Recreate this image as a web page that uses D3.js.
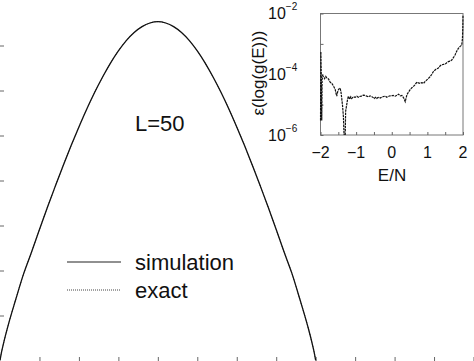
<!DOCTYPE html>
<html>
<head>
<meta charset="utf-8">
<script src="https://cdn.jsdelivr.net/npm/d3@7"></script>
<style>
  html, body { margin: 0; padding: 0; background: #fff; }
  svg { display: block; font-family: "Liberation Sans", Arial, Helvetica, sans-serif; }
</style>
</head>
<body>
<svg id="chart" width="474" height="361"></svg>
<script>
// ---------- data ----------
// main panel: log10 g(E) for L=50 versus E/N
const energyPerSite = [-2, -1.98, -1.95, -1.9, -1.8, -1.7, -1.6, -1.5, -1.4, -1.3, -1.2, -1.1, -1.0, -0.9, -0.8, -0.7, -0.6, -0.5, -0.4, -0.3, -0.2, -0.1, 0,
                       0.1, 0.2, 0.3, 0.4, 0.5, 0.6, 0.7, 0.8, 0.9, 1.0, 1.1, 1.2, 1.3, 1.4, 1.5, 1.6, 1.7, 1.8, 1.9, 1.95, 1.98, 2];
const simulationLogG = [0.3, 19, 42, 76, 136, 193, 241, 291, 340, 387, 433, 477, 519, 559, 596, 630, 661, 688, 711, 729, 742, 750, 753,
                        750, 742, 729, 711, 688, 661, 630, 596, 559, 519, 477, 433, 387, 340, 291, 241, 193, 136, 76, 42, 19, 0.3];
const exactLogG = [0.3, 19, 42, 76, 136, 193, 241, 291, 340, 387, 433, 477, 519, 559, 596, 630, 661, 688, 711, 729, 742, 750, 753,
                   750, 742, 729, 711, 688, 661, 630, 596, 559, 519, 477, 433, 387, 340, 291, 241, 193, 136, 76, 42, 19, 0.3];
const mainXTicks = [-1.5, -1, -0.5, 0, 0.5, 1, 1.5, 2, 2.5, 3, 3.5, 4];
const mainYTicks = [100, 200, 300, 400, 500, 600, 700];
const legendLabels = ["simulation", "exact"];
const panelLabel = "L=50";

// inset: relative error of log g(E)
const insetE = [-2.0, -1.99, -1.978, -1.965, -1.955, -1.94, -1.916, -1.885, -1.852, -1.82, -1.776, -1.73, -1.684, -1.64, -1.589, -1.565, -1.544, -1.52, -1.497, -1.47, -1.449, -1.425, -1.404, -1.38, -1.357, -1.33, -1.31, -1.295, -1.264, -1.24, -1.217, -1.18, -1.15, -1.124, -1.08, -1.03, -0.98, -0.937, -0.9, -0.853, -0.8, -0.75, -0.7, -0.657, -0.61, -0.565, -0.52, -0.49, -0.455, -0.425, -0.39, -0.35, -0.32, -0.285, -0.23, -0.18, -0.14, -0.098, -0.05, -0.014, 0.042, 0.098, 0.15, 0.19, 0.24, 0.285, 0.336, 0.378, 0.425, 0.47, 0.517, 0.565, 0.61, 0.66, 0.705, 0.75, 0.797, 0.845, 0.89, 0.94, 0.985, 1.03, 1.077, 1.12, 1.169, 1.24, 1.309, 1.36, 1.404, 1.45, 1.497, 1.545, 1.589, 1.64, 1.684, 1.73, 1.776, 1.82, 1.869, 1.92, 1.964, 1.985, 1.995, 2.0];
const insetError = [3e-6, 5.5e-4, 9.5e-5, 3e-6, 6e-5, 9e-5, 8.5e-5, 7.2e-5, 8.5e-5, 7.5e-5, 7e-5, 5.5e-5, 5e-5, 4.2e-5, 3.2e-5, 2.4e-5, 1.9e-5, 2.6e-5, 3.1e-5, 3.4e-5, 3.5e-5, 2.6e-5, 1.6e-5, 9e-6, 4e-6, 5e-7, 5e-7, 6e-6, 1e-5, 1.5e-5, 1.9e-5, 1.5e-5, 1.8e-5, 1.6e-5, 1.8e-5, 1.75e-5, 1.9e-5, 1.75e-5, 1.85e-5, 1.9e-5, 2.05e-5, 2.0e-5, 1.9e-5, 1.8e-5, 1.95e-5, 1.85e-5, 1.7e-5, 1.6e-5, 1.75e-5, 1.6e-5, 1.7e-5, 1.75e-5, 1.65e-5, 1.75e-5, 1.85e-5, 1.9e-5, 1.75e-5, 1.85e-5, 1.95e-5, 1.95e-5, 2.0e-5, 1.9e-5, 2.05e-5, 2.2e-5, 1.95e-5, 2.0e-5, 1.65e-5, 1.25e-5, 2.1e-5, 2.6e-5, 3.1e-5, 3.6e-5, 4.0e-5, 4.6e-5, 5.5e-5, 5.2e-5, 5.0e-5, 5.3e-5, 5.0e-5, 5.8e-5, 6.5e-5, 7.3e-5, 8.3e-5, 9.8e-5, 1.23e-4, 1.45e-4, 1.6e-4, 1.9e-4, 2.05e-4, 2.1e-4, 2.15e-4, 2.4e-4, 2.6e-4, 2.7e-4, 2.95e-4, 3.5e-4, 4.3e-4, 5.6e-4, 7.1e-4, 8.3e-4, 9.1e-4, 1.5e-3, 3.5e-3, 9e-3];
const insetXTicks = [-2, -1.5, -1, -0.5, 0, 0.5, 1, 1.5, 2];
const insetXLabels = [-2, -1, 0, 1, 2];
const insetYTicks = [1e-2, 1e-3, 1e-4, 1e-5, 1e-6];
const insetYLabels = [1e-2, 1e-4, 1e-6];
const insetXTitle = "E/N";
const insetYTitle = "ε(log(g(E)))";

// ---------- drawing ----------
const svg = d3.select("#chart");
const W = 474, H = 361;

const x = d3.scaleLinear().domain([-2, 4]).range([0, 473.5]);
const y = d3.scaleLinear().domain([0, 800]).range([360.5, 0.5]);

// axes: ticks only, no domain line
const gx = svg.append("g").attr("transform", `translate(0,${H})`)
  .call(d3.axisBottom(x).tickValues(mainXTicks).tickSize(-4).tickFormat(""));
const gy = svg.append("g").attr("transform", "translate(0,0)")
  .call(d3.axisLeft(y).tickValues(mainYTicks).tickSize(-4).tickFormat(""));
[gx, gy].forEach(g => {
  g.select(".domain").remove();
  g.selectAll(".tick line").attr("stroke", "#666").attr("stroke-width", 1);
});

const mainExact = energyPerSite.map((e, i) => [e, exactLogG[i]]);
const mainSim = energyPerSite.map((e, i) => [e, simulationLogG[i]]);
const line = d3.line().x(d => x(d[0])).y(d => y(d[1])).curve(d3.curveMonotoneX);

svg.append("path").datum(mainExact).attr("d", line)
  .attr("fill", "none").attr("stroke", "#555").attr("stroke-width", 1).attr("stroke-dasharray", "1,1.5");
svg.append("path").datum(mainSim).attr("d", line)
  .attr("fill", "none").attr("stroke", "#111").attr("stroke-width", 1.3);

// panel label
svg.append("text").attr("x", 135).attr("y", 130.5).attr("font-size", 22).attr("fill", "#111").text(panelLabel);

// legend
const legend = svg.append("g");
const legY = [262, 290];
legend.append("line").attr("x1", 67).attr("x2", 121).attr("y1", legY[0]).attr("y2", legY[0])
  .attr("stroke", "#222").attr("stroke-width", 1.2);
legend.append("line").attr("x1", 67).attr("x2", 121).attr("y1", legY[1]).attr("y2", legY[1])
  .attr("stroke", "#444").attr("stroke-width", 1).attr("stroke-dasharray", "1,1");
legendLabels.forEach((t, i) => {
  legend.append("text").attr("x", 135).attr("y", legY[i] + 8).attr("font-size", 22).attr("fill", "#111").text(t);
});

// ---------- inset ----------
const ix = d3.scaleLinear().domain([-2, 2]).range([320.5, 463]);
const iy = d3.scaleLog().domain([1e-6, 1e-2]).range([135, 13.5]);

svg.append("clipPath").attr("id", "insetClip").append("rect")
  .attr("x", ix(-2) - 1).attr("y", iy(1e-2)).attr("width", ix(2) - ix(-2) + 2).attr("height", iy(1e-6) - iy(1e-2));

svg.append("rect").attr("x", ix(-2)).attr("y", iy(1e-2))
  .attr("width", ix(2) - ix(-2)).attr("height", iy(1e-6) - iy(1e-2))
  .attr("fill", "none").attr("stroke", "#777").attr("stroke-width", 1);

const igx = svg.append("g").attr("transform", `translate(0,${iy(1e-6)})`)
  .call(d3.axisBottom(ix).tickValues(insetXTicks).tickSize(-3).tickFormat(""));
const igy = svg.append("g").attr("transform", `translate(${ix(-2)},0)`)
  .call(d3.axisLeft(iy).tickValues(insetYTicks).tickSize(-3).tickFormat(""));
[igx, igy].forEach(g => {
  g.select(".domain").remove();
  g.selectAll(".tick line").attr("stroke", "#666");
});

const insetLine = d3.line().x(d => ix(d[0])).y(d => iy(d[1]));
svg.append("path").datum(insetE.map((e, i) => [e, insetError[i]]))
  .attr("clip-path", "url(#insetClip)")
  .attr("d", insetLine).attr("fill", "none").attr("stroke", "#111")
  .attr("stroke-width", 1.2).attr("stroke-dasharray", "2.5,0.8");

// inset x labels
insetXLabels.forEach(v => {
  svg.append("text").attr("x", ix(v)).attr("y", 158).attr("text-anchor", "middle")
    .attr("font-size", 16).attr("fill", "#111").text(v < 0 ? "\u2212" + Math.abs(v) : String(v));
});
svg.append("text").attr("x", 392).attr("y", 180.5).attr("text-anchor", "middle")
  .attr("font-size", 17).attr("fill", "#111").text(insetXTitle);

// inset y labels 10^n
insetYLabels.forEach(v => {
  const p = Math.round(Math.log10(v));
  const t = svg.append("text").attr("x", 268).attr("y", iy(v) + 5.5).attr("font-size", 16).attr("fill", "#111");
  t.append("tspan").text("10");
  t.append("tspan").attr("dy", -9).attr("font-size", 10).text("\u2212" + Math.abs(p));
});
svg.append("text").attr("transform", "translate(264,73) rotate(-90)").attr("text-anchor", "middle")
  .attr("font-size", 17).attr("fill", "#111").text(insetYTitle);
</script>
</body>
</html>
